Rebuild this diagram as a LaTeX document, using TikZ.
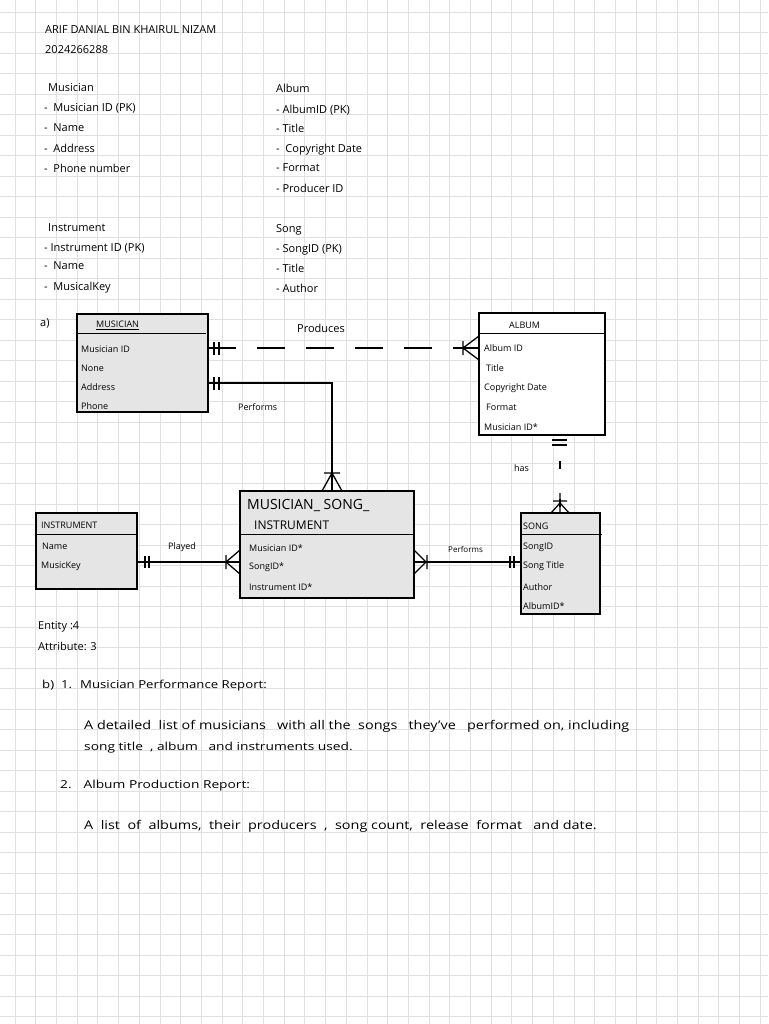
\documentclass[tikz,border=0pt]{standalone}
\usepackage{fontspec}
\usepackage{graphicx}
\setmainfont{Open Sans}
\begin{document}
\begin{tikzpicture}[x=1pt,y=-1pt,
 ent/.style={draw=black,line width=1.2pt,fill=black!10},
 lab/.style={anchor=west,inner sep=0pt,font=\fontsize{11}{12}\selectfont},
 sm/.style={anchor=west,inner sep=0pt,font=\fontsize{9}{10}\selectfont},
 ln/.style={line width=1.3pt},
 ]
\useasboundingbox (0,0) rectangle (768,1024);
\fill[white] (0,0) rectangle (768,1024);
\foreach \i in {0,...,37} {\draw[black!12,line width=0.8pt] (15+\i*20.7,0) -- (15+\i*20.7,1024);}
\foreach \i in {0,...,50} {\draw[black!12,line width=0.8pt] (0,12+\i*20.5) -- (768,12+\i*20.5);}
% header texts
\node[lab] (n1) at (45,30) {ARIF DANIAL BIN KHAIRUL NIZAM};
\node[lab] (n2) at (45,50) {2024266288};
\node[lab] (m0) at (48,88) {Musician};
\node[lab] (m1) at (44,108) {- \ Musician ID (PK)};
\node[lab] (m2) at (44,128) {- \ Name};
\node[lab] (m3) at (44,148) {- \ Address};
\node[lab] (m4) at (44,168) {- \ Phone number};
\node[lab] (a0) at (276,88) {Album};
\node[lab] (a1) at (276,110) {- AlbumID (PK)};
\node[lab] (a2) at (276,128) {- Title};
\node[lab] (a3) at (276,150) {- \ Copyright Date};
\node[lab] (a4) at (276,168) {- Format};
\node[lab] (a5) at (276,188) {- Producer ID};
\node[lab] (i0) at (48,228) {Instrument};
\node[lab] (i1) at (44,248) {- Instrument ID (PK)};
\node[lab] (i2) at (44,266) {- \ Name};
\node[lab] (i3) at (44,288) {- \ MusicalKey};
\node[lab] (s0) at (276,230) {Song};
\node[lab] (s1) at (276,250) {- SongID (PK)};
\node[lab] (s2) at (276,268) {- Title};
\node[lab] (s3) at (276,288) {- Author};
\node[lab] (aa) at (40,323) {a)};
% MUSICIAN
\draw[ent] (77,314) rectangle (208,412);
\draw[line width=1pt] (77,333) -- (206,333);
\node[sm] (mt) at (96,325) {\underline{MUSICIAN}};
\node[sm] at (81,349) {Musician ID};
\node[sm] at (81,368) {None};
\node[sm] at (81,387) {Address};
\node[sm] at (81,406) {Phone};
% ALBUM
\draw[line width=1.2pt,fill=white] (479,313) rectangle (605,435);
\draw[line width=1pt] (479,333) -- (605,333);
\node[sm] at (509,325) {ALBUM};
\node[sm] at (484,348) {Album ID};
\node[sm] at (486,368) {Title};
\node[sm] at (484,388) {Copyright Date};
\node[sm] at (486,407) {Format};
\node[sm] at (484,427) {Musician ID*};
% MSI
\draw[ent] (240,491) rectangle (414,598);
\draw[line width=1pt] (240,534) -- (414,534);
\node[lab,font=\fontsize{14}{15}\selectfont] at (247,505) {MUSICIAN\_ SONG\_};
\node[lab,font=\fontsize{12}{13}\selectfont] at (254,525) {INSTRUMENT};
\node[sm] at (249,548) {Musician ID*};
\node[sm] at (249,567) {SongID*};
\node[sm] at (249,587) {Instrument ID*};
% INSTRUMENT
\draw[ent] (36,513) rectangle (137,589);
\draw[line width=1pt] (36,534) -- (137,534);
\node[sm] at (41,525) {INSTRUMENT};
\node[sm] at (42,546) {Name};
\node[sm] at (41,566) {MusicKey};
% SONG
\draw[ent] (521,513) rectangle (600,614);
\draw[line width=1pt] (521,534) -- (602,534);
\node[sm] at (523,526) {SONG};
\node[sm] at (523,547) {SongID};
\node[sm] at (523,566) {Song Title};
\node[sm] at (523,587) {Author};
\node[sm] at (523,606) {AlbumID*};
% coordinates
\coordinate (mu1) at (208,348); \coordinate (al1) at (479,348);
\coordinate (mu2) at (208,383); \coordinate (bend) at (332,383); \coordinate (ms1) at (332,491);
\coordinate (in1) at (137,562); \coordinate (ms2) at (240,562);
\coordinate (ms3) at (414,562); \coordinate (so1) at (521,562);
\coordinate (al2) at (560,435); \coordinate (so2) at (560,513);
% Produces
\draw[ln,dash pattern=on 28pt off 21pt] (mu1) -- (al1);
\draw[ln] (214,342) -- (214,355) (219,342) -- (219,355);
\draw[ln] (479,336) -- (463,348) -- (479,360) (463,341) -- (463,355);
\node[lab] (pl) at (297,328) {Produces};
% Performs 1
\draw[ln] (mu2) -- (bend) -- (ms1);
\draw[ln] (214,377) -- (214,390) (219,377) -- (219,390);
\draw[ln] (322,491) -- (332,473) -- (342,491) (324,473) -- (340,473);
\node[sm] (pf) at (238,407) {Performs};
% Played
\draw[ln] (in1) -- (ms2);
\draw[ln] (145,556) -- (145,568) (149,556) -- (149,568);
\draw[ln] (240,550) -- (226,562) -- (240,574) (226,555) -- (226,569);
\node[sm] (pl2) at (168,547) {Played};
% Performs 2
\draw[ln] (ms3) -- (so1);
\draw[ln] (414,550) -- (426,562) -- (414,574) (427,555) -- (427,569);
\draw[ln] (510,556) -- (510,568) (514,556) -- (514,568);
\node[sm,font=\fontsize{8}{9}\selectfont] (pf2) at (448,549) {Performs};
% has
\draw[ln,dash pattern=on 8pt off 30pt,dash phase=-26pt] (al2) -- (so2);
\draw[ln] (552,440) -- (567,440) (552,445) -- (567,445);
\draw[ln] (551,513) -- (560,503) -- (569,513) (560,493) -- (560,513) (553,501) -- (567,501);
\node[sm] (hs) at (514,468) {has};
% bottom
\node[lab] at (38,627) {Entity :4};
\node[lab] at (38,646) {Attribute: 3};
\node[lab] at (42,686) {\scalebox{1.2}[1]{b) \ 1. \ Musician Performance Report:}};
\node[lab,font=\fontsize{12}{13}\selectfont] at (84,726) {\scalebox{1.2}[1]{A detailed \ list of musicians \ \ with all the \ songs \ \ they've \ \ performed on, including}};
\node[lab] at (84,748) {\scalebox{1.25}[1]{song title \ , album \ \ and instruments used.}};
\node[lab] at (60,786) {\scalebox{1.25}[1]{2. \ \ Album Production Report:}};
\node[lab,font=\fontsize{12}{13}\selectfont] at (84,826) {\scalebox{1.2}[1]{A \ list \ of \ albums, \ their \ producers \ , \ song count, \ release \ format \ \ and date.}};
\end{tikzpicture}
\end{document}
